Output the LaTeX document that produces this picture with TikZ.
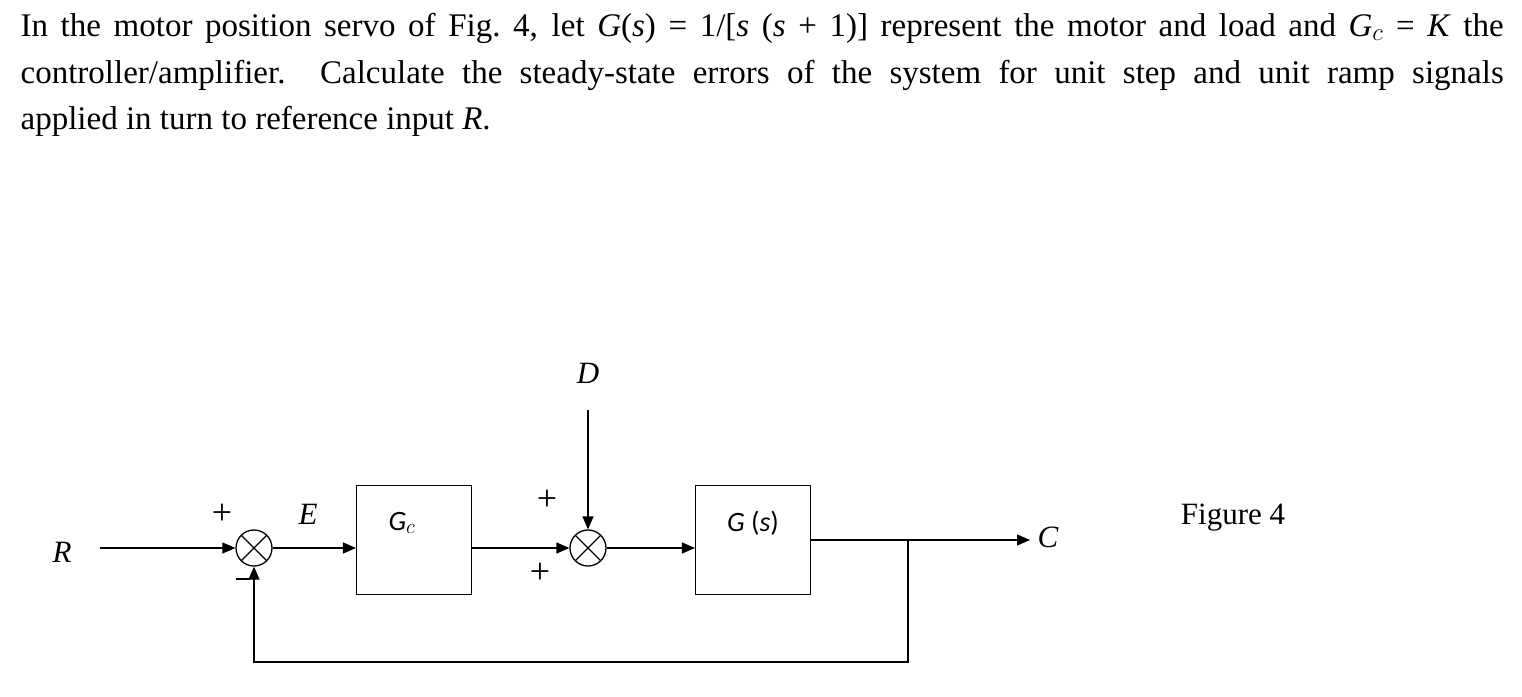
\documentclass[tikz,border=0pt]{standalone}
\usepackage{fontspec}
\setmainfont{Liberation Serif}
\newfontfamily\carl{Carlito}
\usetikzlibrary{arrows.meta}
\begin{document}
\begin{tikzpicture}[x=1pt,y=-1pt,line width=1.3pt,
  sumj/.style={circle,draw,minimum size=36pt,inner sep=0pt,path picture={\draw[line width=1.1pt] (path picture bounding box.north west)--(path picture bounding box.south east) (path picture bounding box.south west)--(path picture bounding box.north east);}},
  blk/.style={draw,line width=1.1pt,minimum width=115pt,minimum height=109pt},
  arr/.style={-{Triangle[length=13pt,width=11pt]}},
  lbl/.style={font=\fontsize{31}{31}\selectfont},
  sgn/.style={font=\fontsize{36}{36}\selectfont}]
\useasboundingbox (0,0) rectangle (1522,696);
\node[anchor=north west,inner sep=0pt,text width=1483pt,align=justify,font=\fontsize{33}{46.5}\selectfont] (txt) at (20,13)
 {In the motor position servo of Fig.~4, let \textit{G}(\textit{s}) = 1/[\textit{s} (\textit{s} + 1)] represent the motor and load and \textit{G}$_c$ = \textit{K} the\linebreak controller/amplifier.\ \ Calculate the steady-state errors of the system for unit step and unit ramp signals\linebreak applied in turn to reference input \textit{R}.};
\node[sumj] (s1) at (254,548) {};
\node[sumj] (s2) at (588,548) {};
\node[blk] (gc) at (414,540) {};
\node[font=\carl\itshape\fontsize{28}{28}\selectfont] (gct) at (402,523) {G$_c$};
\node[blk] (g) at (753,540) {};
\node[font=\carl\fontsize{28}{28}\selectfont] (gt) at (753,523) {\textit{G} (\textit{s})};
\node[lbl] (r) at (62,552) {\textit{R}};
\node[lbl] (c) at (1048,537) {\textit{C}};
\node[lbl] (d) at (588,373) {\textit{D}};
\node[lbl] (fig) at (1233,518) {Figure 4};
\node[sgn] (p1) at (222,514) {+};
\node[lbl] (e) at (308,514) {\textit{E}};
\node (m1) at (243,579) {\rule{14pt}{1.5pt}};
\node[sgn] (p2) at (547,500) {+};
\node[sgn] (p3) at (540,573) {+};
\coordinate (rs) at (100,548);
\coordinate (ds) at (588,410);
\coordinate (tap) at (908,540);
\coordinate (ce) at (1030,540);
\coordinate (fb) at (908,662);
\coordinate (fb2) at (254,662);
\draw[arr] (rs) -- (s1.west);
\draw[arr] (s1.east) -- (gc.west |- s1);
\draw[arr] (gc.east |- s2) -- (s2.west);
\draw[arr] (ds) -- (s2.north);
\draw[arr] (s2.east) -- (g.west |- s2);
\draw[arr] (g.east |- tap) -- (ce);
\draw[arr] (tap) -- (fb) -- (fb2) -- (s1.south);
\end{tikzpicture}
\end{document}
